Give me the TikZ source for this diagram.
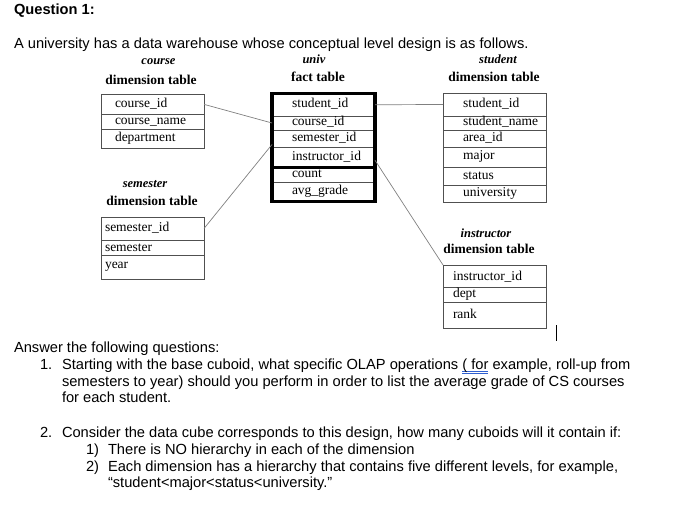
\documentclass[tikz,border=0pt]{standalone}
\usepackage{fontspec}
\setmainfont{Liberation Serif}
\newfontfamily\arialfont{Liberation Sans}
\definecolor{boxgray}{HTML}{505050}
\definecolor{linkgray}{HTML}{808080}
\definecolor{ulblue}{HTML}{2F5FD0}
\newcommand\bodyfont{\arialfont\fontsize{14.67pt}{17pt}\selectfont}
\newcommand\tabfont{\rmfamily\fontsize{13.5pt}{15pt}\selectfont}
\newcommand\gul[1]{\setbox0\hbox{#1}\rlap{\color{ulblue}\rule[-2.4pt]{\wd0}{0.6pt}}\rlap{\color{ulblue}\rule[-3.8pt]{\wd0}{0.6pt}}\box0\relax}
\begin{document}
\begin{tikzpicture}[x=1pt,y=-1pt,
  body/.style={anchor=base west, inner sep=0pt, outer sep=0pt, font=\bodyfont},
  ttl/.style={anchor=base, inner sep=0pt, font=\tabfont\bfseries},
  ittl/.style={anchor=base, inner sep=0pt, font=\rmfamily\fontsize{12.5pt}{14pt}\selectfont\bfseries\itshape},
  row/.style n args={2}{draw=boxgray, line width=0.7pt, anchor=north west, inner ysep=0pt, outer sep=0pt,
     inner xsep=#1, text width=#2, align=left, font=\tabfont, text height=9pt, text depth=3pt},
  crow/.style={row={14pt}{75pt}},
  frow/.style={row={20pt}{63pt}},
  srow/.style={row={4pt}{95pt}},
  irow/.style={row={10pt}{83pt}},
  link/.style={draw=linkgray, line width=0.7pt},
  thickbox/.style={draw=black, line width=3.2pt},
]
\useasboundingbox (0,0) rectangle (683,508);

% ---- text ----
\node[body, font=\bodyfont\bfseries] (q) at (14,15) {Question 1:};
\node[body] (intro) at (14,48.5) {A university has a data warehouse whose conceptual level design is as follows.};

% ---- titles ----
\node[ittl] (tc1) at (158.5,65) {course};
\node[ttl] (tc2) at (151,85) {dimension table};
\node[ittl] (tf1) at (314,64) {univ};
\node[ttl] (tf2) at (318,82) {fact table};
\node[ittl] (ts1) at (498,64) {student};
\node[ttl] (ts2) at (494,82) {dimension table};
\node[ittl] (tm1) at (145,187) {semester};
\node[ttl] (tm2) at (152,205) {dimension table};
\node[ittl] (ti1) at (486,237) {instructor};
\node[ttl] (ti2) at (489,253) {dimension table};

% ---- course table ----
\node[crow, minimum height=20.7pt] (c1) at (101,94) {course\_id};
\node[crow, minimum height=14.3pt] (c2) at (101,114.7) {course\_name};
\node[crow, minimum height=19pt] (c3) at (101,129) {department};

% ---- fact table ----
\node[frow, minimum height=22.5pt] (f1) at (272,93.5) {student\_id};
\node[frow, minimum height=14pt] (f2) at (272,116) {course\_id};
\node[frow, minimum height=17pt] (f3) at (272,130) {semester\_id};
\node[frow, minimum height=20.5pt] (f4) at (272,147) {instructor\_id};
\node[frow, minimum height=14.5pt] (f5) at (272,167.5) {count};
\node[frow, minimum height=19.5pt] (f6) at (272,182) {avg\_grade};
\draw[thickbox] (f1.north west) rectangle (f6.south east);
\draw[thickbox] (f4.south west) -- (f4.south east);

% ---- student table ----
\node[frow, minimum height=23pt] (st1) at (443,93) {student\_id};
\node[frow, minimum height=14pt] (st2) at (443,116) {student\_name};
\node[frow, minimum height=17pt] (st3) at (443,130) {area\_id};
\node[frow, minimum height=20pt] (st4) at (443,147) {major};
\node[frow, minimum height=18pt] (st5) at (443,167) {status};
\node[frow, minimum height=17pt] (st6) at (443,185) {university};

% ---- semester table ----
\node[srow, minimum height=23pt] (s1) at (101,217) {semester\_id};
\node[srow, minimum height=15pt, text height=11pt, text depth=4pt] (s2) at (101,240) {semester};
\node[srow, minimum height=24pt, text height=13pt, text depth=11pt] (s3) at (101,255) {year};

% ---- instructor table ----
\node[irow, minimum height=22pt, text height=12pt] (i1) at (443,265) {instructor\_id};
\node[irow, minimum height=15pt] (i2) at (443,287) {dept};
\node[irow, minimum height=26pt] (i3) at (443,302) {rank};

% ---- connectors ----
\draw[link] (c1.east) -- (f2.west);
\draw[link] (s1.east) -- ([yshift=-6pt]f3.west);
\draw[link] (f1.east) -- (st1.west);
\draw[link] ([yshift=-3pt]f4.east) -- (i1.north west);

% ---- cursor ----
\coordinate (cur1) at (556,325);
\coordinate (cur2) at (556,341);
\draw[black, line width=0.8pt] (cur1) -- (cur2);

% ---- questions ----
\node[body] (ans) at (14,352.5) {Answer the following questions:};
\node[body] (n1) at (40,369.5) {1.};
\node[body] (t1a) at (62,369.5) {Starting with the base cuboid, what specific OLAP operations \gul{( for} example, roll-up from};
\node[body] (t1b) at (62,386.5) {semesters to year) should you perform in order to list the average grade of CS courses};
\node[body] (t1c) at (62,402.5) {for each student.};
\node[body] (n2) at (40,437.5) {2.};
\node[body] (t2) at (62,437.5) {Consider the data cube corresponds to this design, how many cuboids will it contain if:};
\node[body] (n21) at (86,454.5) {1)};
\node[body] (t21) at (108,454.5) {There is NO hierarchy in each of the dimension};
\node[body] (n22) at (86,471.5) {2)};
\node[body] (t22a) at (108,471.5) {Each dimension has a hierarchy that contains five different levels, for example,};
\node[body] (t22b) at (108,487.5) {“student<major<status<university.”};
\end{tikzpicture}
\end{document}
